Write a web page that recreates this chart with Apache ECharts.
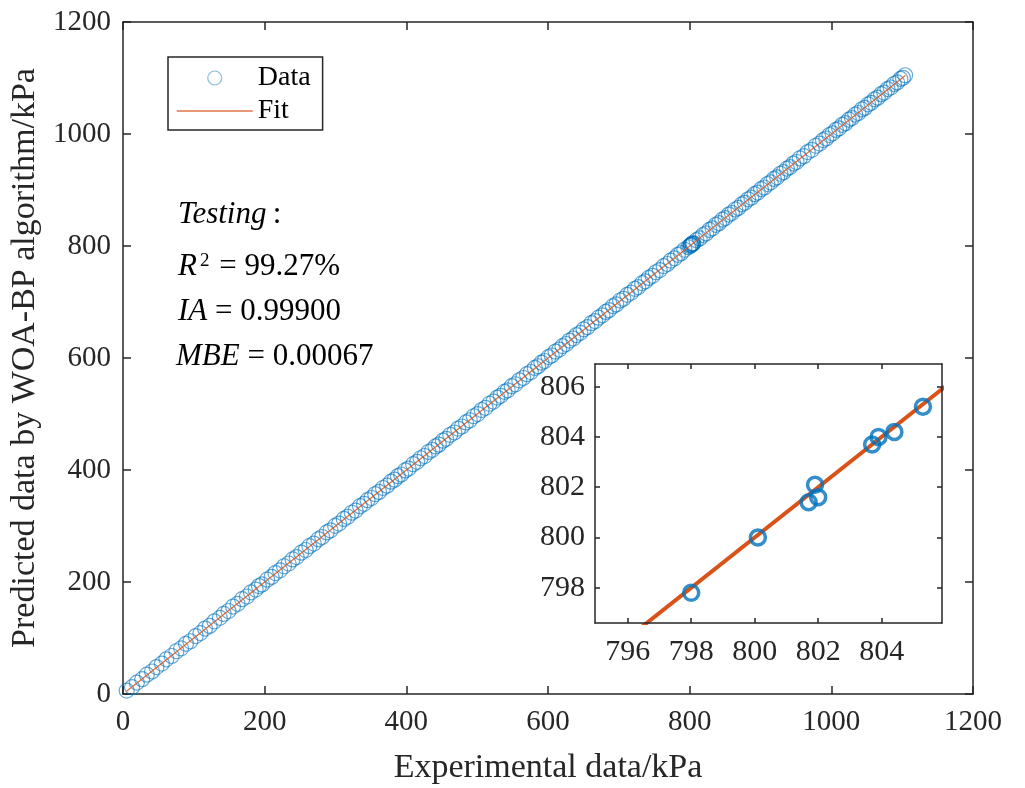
<!DOCTYPE html>
<html>
<head>
<meta charset="utf-8">
<script src="https://cdn.jsdelivr.net/npm/echarts@6/dist/echarts.min.js"></script>
<style>html,body{margin:0;padding:0;background:#fff}#c{width:1025px;height:788px}</style>
</head>
<body>
<div id="c"></div>
<script>
// Testing data: [experimental, predicted] in kPa
const testPoints = [
[5.2,6.0],[12.8,12.1],[19.5,20.3],[27.1,26.4],[33.6,34.5],[41.0,40.2],[47.3,48.1],[54.9,54.3],[61.2,62.0],[68.7,67.9],
[75.4,76.3],[82.0,81.5],[88.9,89.6],[95.1,94.2],[102.6,103.4],[109.3,108.7],[115.8,116.9],[122.4,121.6],[129.0,129.8],[136.7,135.9],
[142.1,143.0],[148.9,148.2],[155.3,156.1],[161.8,160.9],[168.2,169.3],[174.9,174.1],[180.6,181.5],[187.3,186.4],[191.9,192.8],[196.4,195.7],
[203.5,204.2],[209.8,209.0],[215.1,216.0],[221.7,220.8],[227.3,228.1],[233.8,233.0],[239.4,240.3],[245.2,244.5],[251.6,252.4],[257.9,257.1],
[263.1,264.0],[269.4,268.6],[275.8,276.5],[281.2,280.4],[287.6,288.5],[293.0,292.3],[299.5,300.2],[305.1,304.4],[311.7,312.6],[317.2,316.5],
[322.9,323.7],[328.4,327.6],[334.6,335.4],[340.3,339.5],[345.2,346.1],[350.8,350.0],[356.1,357.0],[361.5,360.8],[367.0,367.9],[372.8,372.0],
[378.3,379.1],[383.5,382.7],[388.1,389.0],[392.7,392.0],[398.4,399.2],[403.2,402.5],[409.6,410.4],[415.3,414.6],[420.1,421.0],[425.8,425.0],
[431.4,432.2],[436.7,435.9],[441.2,442.1],[445.9,445.2],[451.6,452.4],[456.3,455.6],[462.0,462.9],[467.8,467.0],[473.1,474.0],[478.5,477.7],
[484.2,485.0],[489.6,488.8],[495.1,496.0],[500.7,499.9],[506.3,507.1],[511.8,511.0],[517.4,518.3],[523.0,522.2],[528.5,529.3],[533.2,532.5],
[538.6,539.5],[543.1,542.3],[548.7,549.6],[553.9,553.1],[559.4,560.2],[565.0,564.3],[570.3,571.1],[575.8,575.0],[581.4,582.3],[586.1,585.3],
[590.7,591.6],[595.3,594.6],[600.8,601.6],[605.2,604.5],[610.6,611.5],[615.9,615.1],[620.4,621.2],[625.8,625.0],[630.2,631.1],[635.6,634.8],
[640.1,641.0],[645.7,644.9],[650.2,651.1],[655.8,655.0],[661.3,662.1],[666.7,665.9],[671.2,672.0],[676.8,676.1],[681.5,682.3],[686.1,685.4],
[691.7,692.5],[696.3,695.6],[701.8,702.7],[706.4,705.6],[711.9,712.8],[717.3,716.5],[722.8,723.6],[727.4,726.6],[732.9,733.7],[737.5,736.8],
[742.1,743.0],[747.6,746.8],[752.2,753.1],[757.8,757.0],[763.3,764.1],[768.7,767.9],[773.2,774.0],[778.8,778.0],[783.4,784.2],[787.9,787.2],
[792.5,793.3],[798.0,797.8],[800.1,800.0],[801.7,801.4],[801.9,802.1],[802.0,801.6],[803.7,803.7],[803.9,804.0],[804.4,804.2],[805.3,805.2],
[809.6,810.4],[814.2,813.5],[818.7,819.6],[823.3,822.5],[827.8,828.7],[832.4,831.6],[836.9,837.8],[841.5,840.7],[846.1,847.0],[850.6,849.8],
[855.2,856.1],[859.7,858.9],[864.3,865.2],[868.8,868.0],[873.4,874.3],[877.9,877.1],[882.5,883.4],[887.1,886.3],[891.6,892.5],[896.2,895.4],
[900.7,901.6],[905.3,904.5],[909.8,910.7],[914.4,913.6],[918.9,919.8],[923.5,922.7],[928.1,929.0],[932.6,931.8],[937.2,938.1],[941.7,940.9],
[946.3,947.2],[950.8,950.0],[955.4,956.3],[961.2,960.4],[966.8,967.7],[972.5,971.7],[978.1,979.0],[983.7,982.9],[988.2,989.1],[992.8,992.0],
[997.3,998.2],[1001.9,1001.1],[1006.4,1007.3],[1011.0,1010.2],[1015.5,1016.4],[1020.1,1019.3],[1024.6,1025.5],[1029.2,1028.4],[1033.7,1034.6],[1038.3,1037.5],
[1042.9,1043.8],[1047.4,1046.6],[1052.0,1052.9],[1056.5,1055.7],[1061.1,1062.0],[1065.6,1064.8],[1070.2,1071.1],[1074.7,1073.9],[1079.3,1080.2],[1083.8,1083.0],
[1088.4,1089.3],[1092.9,1092.1],[1097.5,1098.4],[1101.0,1100.3],[1104.2,1104.9]
];
// Fit line end points
const fitLine = [[4.6,4.6],[1104.5,1104.5]];
// Main axes
const mainXRange = [0, 1200];
const mainYRange = [0, 1200];
const mainInterval = 200;
// Inset axes
const insetXRange = [794.97, 805.9];
const insetYRange = [796.6, 806.9];
const insetXTicks = [796, 798, 800, 802, 804];
const insetYTicks = [798, 800, 802, 804, 806];
// Texts
const xTitle = 'Experimental data/kPa';
const yTitle = 'Predicted data by WOA-BP algorithm/kPa';
const legendNames = ['Data', 'Fit'];

const FONT = 'Liberation Serif';
const DARK = '#262626';
const BLUE = '#0072BD';
const ORANGE = '#D95319';

const axisLineStyle = {color: DARK, width: 1.5};
const plain = function (v) { return String(v); };

function mainAxis(isX, pos, showLabel, range, extra) {
  return Object.assign({
    type: 'value', gridIndex: 0, position: pos,
    min: range[0], max: range[1], interval: mainInterval,
    axisLine: {show: true, onZero: false, lineStyle: axisLineStyle},
    axisTick: {show: true, inside: true, length: 8, lineStyle: axisLineStyle},
    axisLabel: {show: showLabel, color: DARK, fontFamily: FONT, fontSize: 29, margin: isX ? 14 : 12, formatter: plain},
    splitLine: {show: false}
  }, extra || {});
}
function insetAxis(pos, showLabel, range, ticks, isX) {
  return {
    type: 'value', gridIndex: 1, position: pos,
    min: range[0], max: range[1],
    axisLine: {show: true, onZero: false, lineStyle: axisLineStyle},
    axisTick: {show: true, inside: true, length: 5, customValues: ticks, lineStyle: axisLineStyle},
    axisLabel: {show: showLabel, customValues: ticks, color: DARK, fontFamily: FONT, fontSize: 30, margin: isX ? 14 : 10, formatter: plain},
    splitLine: {show: false},
    z: 10
  };
}

const chart = echarts.init(document.getElementById('c'), null, {renderer: 'canvas'});
chart.setOption({
  animation: false,
  backgroundColor: '#fff',
  textStyle: {fontFamily: FONT},
  grid: [
    {left: 123, top: 22, width: 850, height: 672, outerBoundsMode: 'none', containLabel: false},
    {left: 595, top: 364, width: 347, height: 259, show: true, backgroundColor: '#fff', borderWidth: 0, z: 8, outerBoundsMode: 'none', containLabel: false}
  ],
  legend: {
    orient: 'vertical', left: 168, top: 57,
    padding: [6, 12, 4, 8], itemGap: 3, itemWidth: 76, itemHeight: 14,
    backgroundColor: '#fff', borderColor: DARK, borderWidth: 1.5,
    textStyle: {fontFamily: FONT, fontSize: 28, color: '#000', lineHeight: 30},
    data: [
      {name: legendNames[0], icon: 'circle', itemStyle: {color: 'transparent', borderColor: 'rgba(0,114,189,0.6)', borderWidth: 1.2}},
      {name: legendNames[1], itemStyle: {color: 'transparent', borderColor: 'transparent', borderWidth: 0, opacity: 0},
        lineStyle: {color: 'rgba(217,83,25,0.8)', width: 1.5}}
    ],
    selectedMode: false
  },
  xAxis: [
    mainAxis(true, 'bottom', true, mainXRange, {name: xTitle, nameLocation: 'middle', nameGap: 57,
      nameTextStyle: {fontFamily: FONT, fontSize: 34, color: DARK}}),
    mainAxis(true, 'top', false, mainXRange),
    insetAxis('bottom', true, insetXRange, insetXTicks, true),
    insetAxis('top', false, insetXRange, insetXTicks, true)
  ],
  yAxis: [
    mainAxis(false, 'left', true, mainYRange, {name: yTitle, nameLocation: 'middle', nameGap: 70,
      nameTextStyle: {fontFamily: FONT, fontSize: 34, color: DARK}}),
    mainAxis(false, 'right', false, mainYRange),
    insetAxis('left', true, insetYRange, insetYTicks, false),
    insetAxis('right', false, insetYRange, insetYTicks, false)
  ],
  series: [
    {
      name: legendNames[0], type: 'scatter', xAxisIndex: 0, yAxisIndex: 0,
      data: testPoints, symbol: 'circle', symbolSize: 15, silent: true,
      itemStyle: {color: 'transparent', borderColor: 'rgba(0,114,189,0.75)', borderWidth: 1.2},
      z: 2
    },
    {
      name: legendNames[1], type: 'line', xAxisIndex: 0, yAxisIndex: 0,
      data: fitLine, showSymbol: false, symbol: 'none', silent: true,
      itemStyle: {color: 'transparent'},
      lineStyle: {color: 'rgba(217,83,25,0.85)', width: 1.2},
      z: 3
    },
    {
      name: 'DataZoom', type: 'scatter', xAxisIndex: 2, yAxisIndex: 2,
      data: testPoints, symbol: 'circle', symbolSize: 15, silent: true, clip: true,
      itemStyle: {color: 'transparent', borderColor: BLUE, borderWidth: 3.5},
      z: 9
    },
    {
      name: 'FitZoom', type: 'line', xAxisIndex: 2, yAxisIndex: 2,
      data: fitLine, showSymbol: false, symbol: 'none', silent: true, clip: true,
      lineStyle: {color: ORANGE, width: 4},
      z: 9
    }
  ],
  graphic: [
    {type: 'text', x: 178, y: 215, z: 20, style: {
      text: '{it|Testing}{n|\u2009:}', verticalAlign: 'middle', align: 'left',
      rich: {it: {fontFamily: FONT, fontSize: 31, fontStyle: 'italic', fill: '#000'}, n: {fontFamily: FONT, fontSize: 31, fill: '#000'}}
    }},
    {type: 'text', x: 178, y: 267, z: 20, style: {
      text: '{it|R}{sup|2}{n| = 99.27%}', verticalAlign: 'middle', align: 'left',
      rich: {it: {fontFamily: FONT, fontSize: 31, fontStyle: 'italic', fill: '#000'},
             sup: {fontFamily: FONT, fontSize: 19, fill: '#000', verticalAlign: 'top', padding: [0, 2, 4, 3]},
             n: {fontFamily: FONT, fontSize: 31, fill: '#000'}}
    }},
    {type: 'text', x: 178, y: 312, z: 20, style: {
      text: '{it|IA}{n| = 0.99900}', verticalAlign: 'middle', align: 'left',
      rich: {it: {fontFamily: FONT, fontSize: 31, fontStyle: 'italic', fill: '#000'}, n: {fontFamily: FONT, fontSize: 31, fill: '#000'}}
    }},
    {type: 'text', x: 176, y: 357, z: 20, style: {
      text: '{it|MBE}{n| = 0.00067}', verticalAlign: 'middle', align: 'left',
      rich: {it: {fontFamily: FONT, fontSize: 31, fontStyle: 'italic', fill: '#000'}, n: {fontFamily: FONT, fontSize: 31, fill: '#000'}}
    }}
  ]
});
</script>
</body>
</html>
